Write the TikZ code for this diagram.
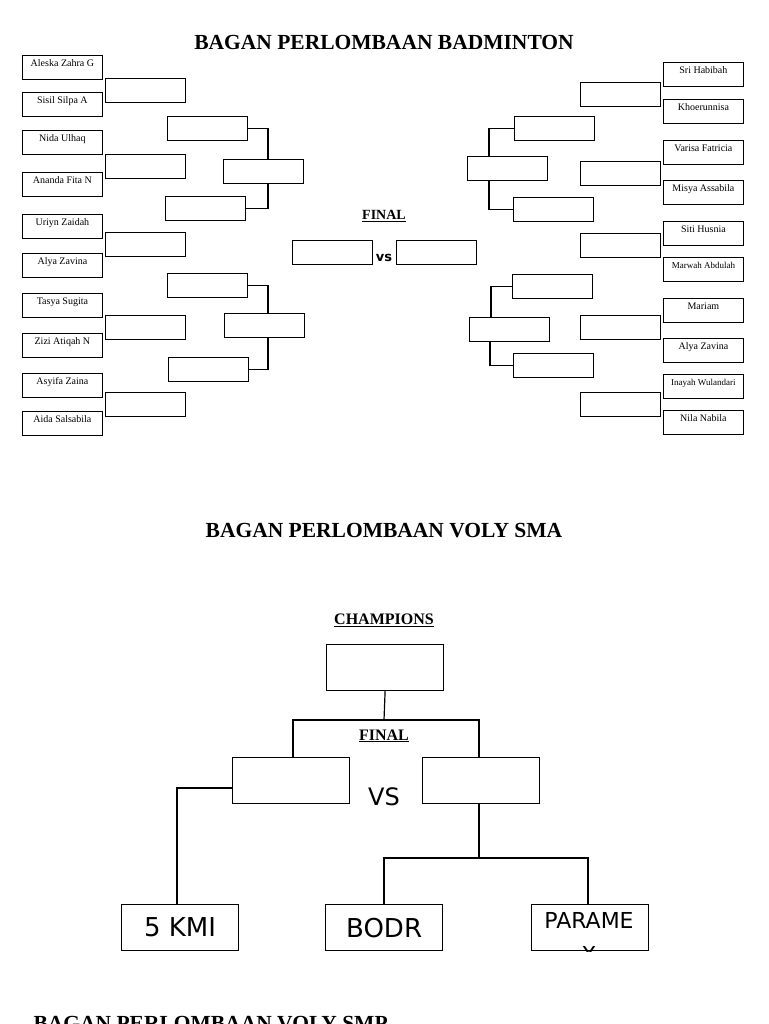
\documentclass[tikz,border=0pt]{standalone}
\usepackage{fontspec}
\setmainfont{Liberation Serif}
\newfontfamily\dvs{DejaVu Sans}
\begin{document}
\begin{tikzpicture}[x=1pt,y=-1pt,
 bx/.style={draw,line width=0.8pt,minimum width=80pt,minimum height=24pt,inner sep=0pt,anchor=north west},
 nm/.style={bx,font=\fontsize{10}{11}\selectfont,text depth=9pt,text height=8pt},
 big/.style={draw,line width=1.2pt,minimum width=117pt,minimum height=46pt,inner sep=0pt,anchor=north west,font=\dvs\fontsize{26}{27}\selectfont},
 ttl/.style={font=\bfseries\fontsize{21.5}{23}\selectfont},
 lbl/.style={font=\bfseries\fontsize{14}{15}\selectfont},
 cn/.style={line width=1.4pt},
 cb/.style={line width=1.2pt}]
\useasboundingbox (0,0) rectangle (768,1024);
\fill[white] (0,0) rectangle (768,1024);
\node[ttl] (t1) at (384,42) {BAGAN PERLOMBAAN BADMINTON};
% left names
\foreach \y/\t [count=\i] in {55/Aleska Zahra G,92/Sisil Silpa A,130/Nida Ulhaq,172/Ananda Fita N,214/Uriyn Zaidah,253/Alya Zavina,293/Tasya Sugita,333/Zizi Atiqah N,373/Asyifa Zaina,411/Aida Salsabila}
  \node[nm] (L\i) at (22,\y) {\t};
\foreach \y/\t [count=\i] in {62/Sri Habibah,99/Khoerunnisa,140/Varisa Fatricia,180/Misya Assabila,221/Siti Husnia,257/{\fontsize{9}{10}\selectfont Marwah Abdulah},298/Mariam,338/Alya Zavina,374/{\fontsize{9}{10}\selectfont Inayah Wulandari},410/Nila Nabila}
  \node[nm] (R\i) at (663,\y) {\t};
% round 1
\foreach \y [count=\i] in {78,154,232,315,392} \node[bx] (la\i) at (105,\y) {};
\foreach \y [count=\i] in {82,161,233,315,392} \node[bx] (ra\i) at (580,\y) {};
% round 2
\node[bx] (lb1) at (167,116) {}; \node[bx] (lb2) at (165,196) {};
\node[bx] (lb3) at (167,273) {}; \node[bx] (lb4) at (168,357) {};
\node[bx] (rb1) at (514,116) {}; \node[bx] (rb2) at (513,197) {};
\node[bx] (rb3) at (512,274) {}; \node[bx] (rb4) at (513,353) {};
% round 3
\node[bx] (lc1) at (223,159) {}; \node[bx] (lc2) at (224,313) {};
\node[bx] (rc1) at (467,156) {}; \node[bx] (rc2) at (469,317) {};
% connectors
\draw[cn] (lb1.east) -| (268,159) (268,183) |- (lb2.east);
\draw[cn] (lb3.east) -| (268,313) (268,337) |- (lb4.east);
\draw[cn] (rb1.west) -| (489,156) (489,180) |- (rb2.west);
\draw[cn] (rb3.west) -| (491,317) (490,341) |- (rb4.west);
% final
\node[lbl] (fin1) at (384,216) {\underline{FINAL}};
\node[bx] (f1) at (292,240) {}; \node[bx] (f2) at (396,240) {};
\node[font=\dvs\bfseries\fontsize{13}{13}\selectfont] (vs1) at (384,258) {vs};
% volley SMA
\node[ttl] (t2) at (384,531) {BAGAN PERLOMBAAN VOLY SMA};
\node[lbl,font=\bfseries\fontsize{16}{17}\selectfont] (ch) at (384,620) {\underline{CHAMPIONS}};
\node[big] (champ) at (326,644) {};
\node[big] (s1) at (232,757) {}; \node[big] (s2) at (422,757) {};
\node[lbl,font=\bfseries\fontsize{16}{17}\selectfont] (fin2) at (384,736) {\underline{FINAL}};
\node[font=\dvs\fontsize{24}{24}\selectfont] (vs2) at (384,797) {VS};
\node[big] (b1) at (121,904) {5 KMI};
\node[big] (b2) at (325,904) {BODR};
\node[big] (b3) at (531,904) {};
\begin{scope}
\clip (b3.north west) rectangle (b3.south east);
\node[font=\dvs\fontsize{22}{22}\selectfont] (b3t) at (589,920) {PARAME};
\node[font=\dvs\fontsize{22}{22}\selectfont] (b3x) at (589,954) {X};
\end{scope}
\draw[cb] (champ.south) -- (384,720) coordinate (m1);
\draw[cb] (293,757) |- (m1) -| (479,757);
\draw[cb] (s1.west |- 0,788) -| (177,904);
\draw[cb] (479,803) -- (479,858) coordinate (m2);
\draw[cb] (384,904) |- (m2) -| (588,904);
\node[ttl,anchor=west] (t3) at (30,1024) {BAGAN PERLOMBAAN VOLY SMP};
\end{tikzpicture}
\end{document}
